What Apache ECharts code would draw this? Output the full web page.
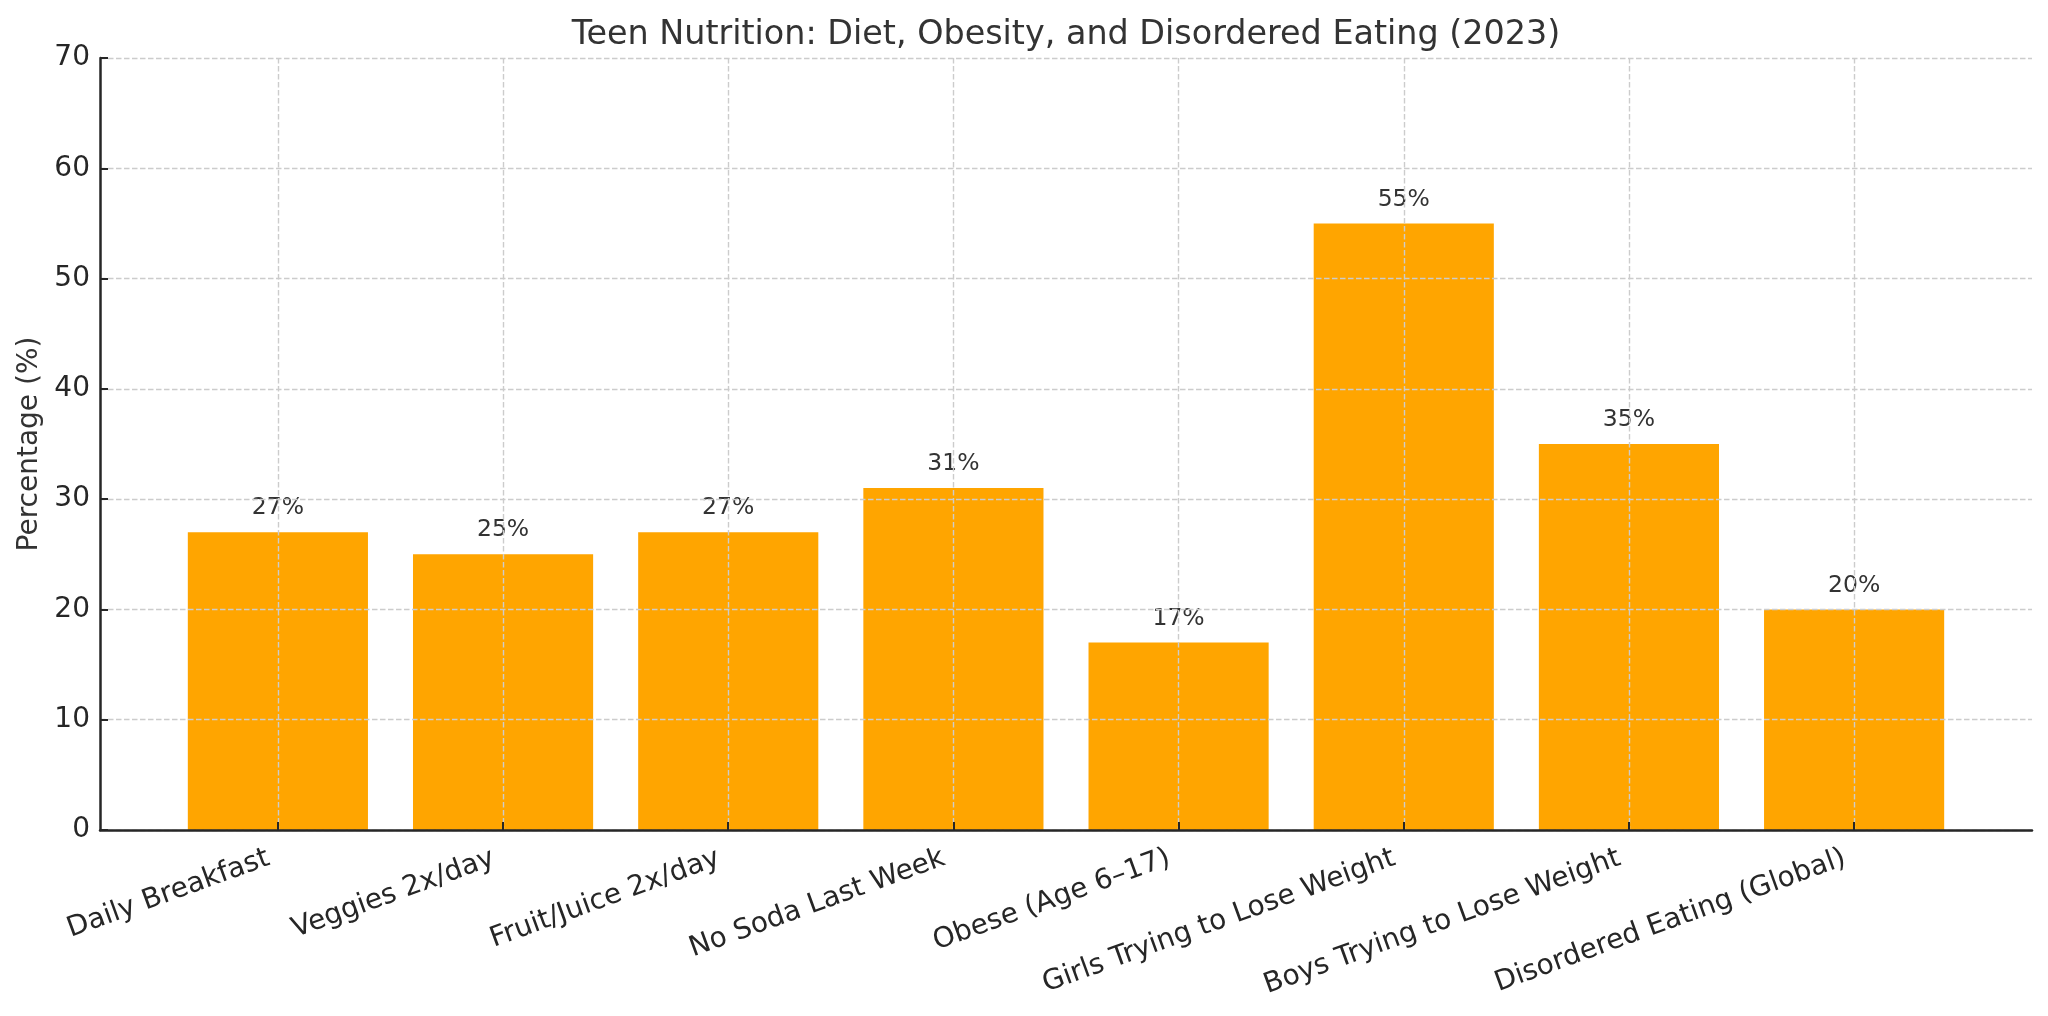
<!DOCTYPE html>
<html>
<head>
<meta charset="utf-8">
<script src="https://cdn.jsdelivr.net/npm/echarts@6/dist/echarts.min.js"></script>
<style>
  html, body { margin: 0; padding: 0; background: #fff; }
  #chart { width: 2048px; height: 1016px; }
</style>
</head>
<body>
<div id="chart"></div>
<script>
const titleText = 'Teen Nutrition: Diet, Obesity, and Disordered Eating (2023)';
const yAxisName = 'Percentage (%)';
const categories = [
  'Daily Breakfast',
  'Veggies 2x/day',
  'Fruit/Juice 2x/day',
  'No Soda Last Week',
  'Obese (Age 6\u201317)',
  'Girls Trying to Lose Weight',
  'Boys Trying to Lose Weight',
  'Disordered Eating (Global)'
];
const values = [27, 25, 27, 31, 17, 55, 35, 20];
const yMin = 0, yMax = 70, yInterval = 10;

const FONT = 'DejaVu Sans';
const AXIS_COLOR = '#262626';
const GRID_LINE = { show: true, lineStyle: { color: '#cccccc', width: 1.4, type: [5.5, 2.5] } };

const chart = echarts.init(document.getElementById('chart'), null, { renderer: 'canvas' });
chart.setOption({
  animation: false,
  backgroundColor: '#ffffff',
  textStyle: { fontFamily: FONT },
  title: {
    text: titleText,
    left: 1061,
    top: 14,
    textAlign: 'center',
    textStyle: { fontFamily: FONT, fontSize: 33.4, fontWeight: 'normal', color: '#333333' }
  },
  grid: [
    { left: 100, right: 16, top: 58, bottom: 186, containLabel: false },
    { left: 165.3, right: 81.3, top: 58, bottom: 186, containLabel: false }
  ],
  xAxis: [
    {
      gridIndex: 0, type: 'value', min: 0, max: 1, z: 4,
      axisLine: { show: true, onZero: false, lineStyle: { color: AXIS_COLOR, width: 2.5 } },
      axisTick: { show: false }, axisLabel: { show: false }, splitLine: { show: false }
    },
    {
      gridIndex: 1, type: 'category', data: categories, z: 4,
      axisLine: { show: false },
      axisTick: { show: true, inside: true, alignWithLabel: true, length: 8, lineStyle: { color: AXIS_COLOR, width: 2 } },
      axisLabel: { show: true, interval: 0, rotate: 20, margin: 24, padding: [0, 10, 0, 0], fontFamily: FONT, fontSize: 28, color: '#262626' },
      splitLine: Object.assign({ alignWithLabel: true, interval: 0 }, GRID_LINE)
    }
  ],
  yAxis: [
    {
      gridIndex: 0, type: 'value', min: yMin, max: yMax, interval: yInterval, z: 4,
      name: yAxisName, nameLocation: 'middle', nameGap: 56, nameRotate: 90,
      nameTextStyle: { fontFamily: FONT, fontSize: 28, color: '#333333' },
      axisLine: { show: true, lineStyle: { color: AXIS_COLOR, width: 2.5 } },
      axisTick: { show: true, inside: true, length: 8, lineStyle: { color: AXIS_COLOR, width: 2 } },
      axisLabel: { margin: 10, fontFamily: FONT, fontSize: 28, color: '#262626' },
      splitLine: GRID_LINE
    },
    {
      gridIndex: 1, type: 'value', min: yMin, max: yMax, interval: yInterval, show: false,
      splitLine: { show: false }
    }
  ],
  series: [
    {
      type: 'bar',
      xAxisIndex: 1, yAxisIndex: 1,
      data: values,
      barCategoryGap: '20%',
      itemStyle: { color: '#FFA500' },
      z: 2,
      label: {
        show: true, position: 'top', distance: 12,
        formatter: '{c}%',
        fontFamily: FONT, fontSize: 23.5, color: '#333333'
      }
    }
  ]
});
</script>
</body>
</html>
